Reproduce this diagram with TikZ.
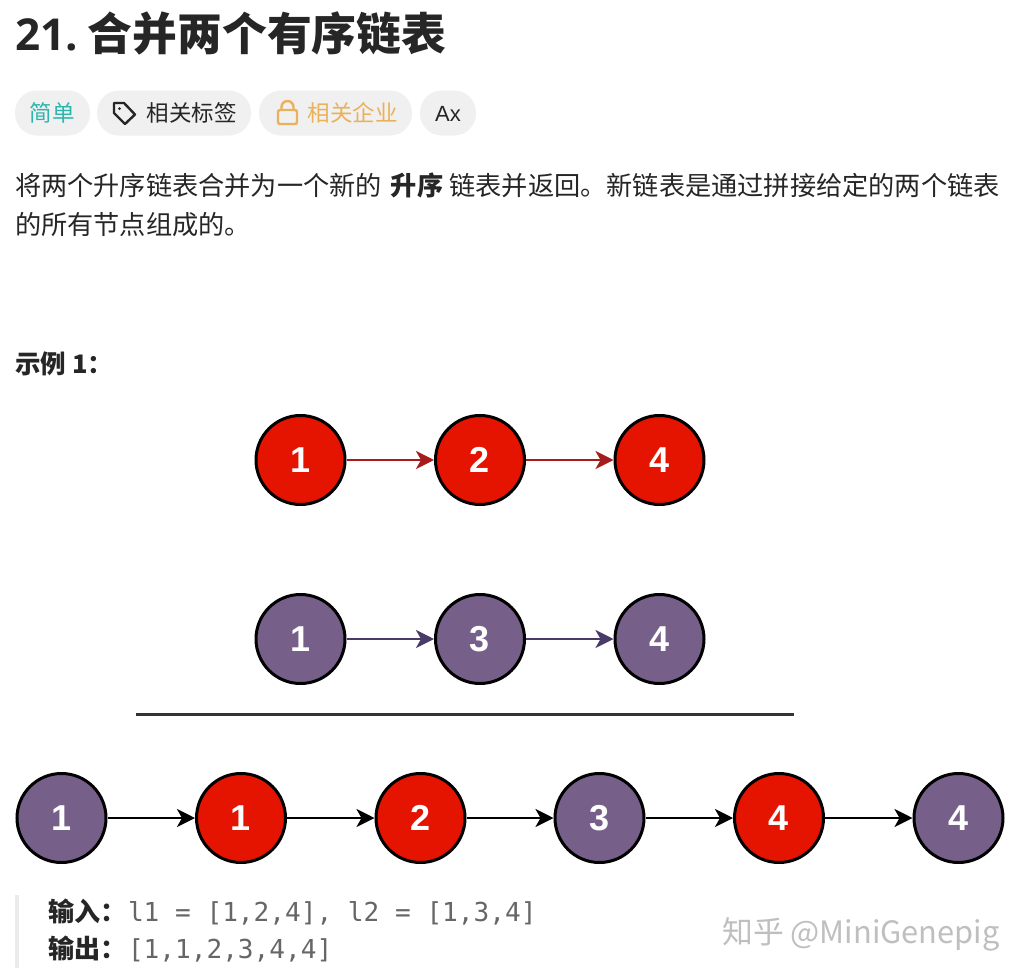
\documentclass[tikz,border=0pt]{standalone}
\usepackage{fontspec}
\usetikzlibrary{arrows.meta}
\setmainfont{Noto Sans CJK SC}
\newfontfamily\latinfont{Open Sans}
\newfontfamily\arialfont{Liberation Sans}
\newfontfamily\codefont{DejaVu Sans Mono}
\newcommand{\fsize}[1]{\fontsize{#1}{#1}\selectfont}
\definecolor{listred}{HTML}{E51400}
\definecolor{listpurple}{HTML}{76608A}
\definecolor{arrowred}{HTML}{A61C1C}
\definecolor{arrowpurple}{HTML}{4A3A68}
\definecolor{chipgray}{HTML}{F0F0F0}
\definecolor{inktext}{HTML}{262626}
\definecolor{teal}{HTML}{2DB5AD}
\definecolor{lockgold}{HTML}{E9B25A}
\tikzset{
  listnode/.style={circle,draw=black,line width=3pt,minimum size=89pt,inner sep=0pt,text=white,font=\arialfont\bfseries\fsize{36}},
  rednode/.style={listnode,fill=listred},
  purplenode/.style={listnode,fill=listpurple},
  link/.style={line width=2.6pt,-{Stealth[length=18pt,width=18pt,inset=5pt]}},
  chip/.style={rounded corners=22pt,fill=chipgray,inner sep=0pt,minimum height=45pt},
  label/.style={anchor=base west,inner sep=0pt,text=inktext},
  bodytext/.style={label,font=\fsize{26.2}},
  chiptext/.style={anchor=base,inner sep=0pt,font=\fsize{22.5}},
  codeline/.style={label,font=\fsize{26.1}}
}
\begin{document}
\begin{tikzpicture}[x=1pt,y=-1pt]
  \useasboundingbox (0,0) rectangle (1026,980);
  \fill[white] (0,0) rectangle (1026,980);

  \node[label,font=\bfseries\fsize{44.8}] (title) at (15,50) {{\latinfont\fsize{44}21.}\hspace{10pt}合并两个有序链表};

  \node[chip,minimum width=75pt] (easy) at (52.5,113) {};
  \node[chip,minimum width=154pt] (tags) at (174,113) {};
  \node[chip,minimum width=153pt] (firms) at (335.5,113) {};
  \node[chip,minimum width=56pt] (lang) at (448,113) {};
  \node[chiptext,text=teal] (easytext) at (52.5,121) {简单};
  \node[chiptext,text=inktext] (tagstext) at (191.5,121) {相关标签};
  \node[chiptext,text=lockgold] (firmstext) at (352.5,121) {相关企业};
  \node[chiptext,text=inktext,font=\arialfont\fsize{22}] (langtext) at (448,121) {Ax};
  \draw[inktext,line width=2.4pt,line join=round] (114,108) -- (114,103) -- (124,103) -- (135,114.5) -- (125,124) -- (114,113) -- cycle;
  \fill[inktext] (119.5,108.5) circle (1.5pt);
  \draw[lockgold,line width=2.4pt,rounded corners=2pt] (278,110) rectangle (297,124);
  \draw[lockgold,line width=2.4pt] (281.5,110) -- (281.5,107) arc[start angle=180,end angle=0,radius=6pt] -- (293.5,110);

  \node[bodytext] (introa) at (15,195) {将两个升序链表合并为一个新的\hspace{9pt}\textbf{升序}\hspace{6.2pt}链表并返回。新链表是通过拼接给定的两个链表};
  \node[bodytext] (introb) at (15,234) {的所有节点组成的。};
  \node[label,font=\bfseries\fsize{25.5}] (example) at (15,373) {示例 1：};

  \node[rednode] (ra) at (300.5,460) {1};
  \node[rednode] (rb) at (480,460) {2};
  \node[rednode] (rc) at (659.5,460) {4};
  \draw[link,arrowred] (ra) -- (rb);
  \draw[link,arrowred] (rb) -- (rc);

  \node[purplenode] (pa) at (300.5,639) {1};
  \node[purplenode] (pb) at (480,639) {3};
  \node[purplenode] (pc) at (659.5,639) {4};
  \draw[link,arrowpurple] (pa) -- (pb);
  \draw[link,arrowpurple] (pb) -- (pc);

  \coordinate (ruleleft) at (136,714);
  \coordinate (ruleright) at (794,714);
  \draw[line width=3pt,color=black!80] (ruleleft) -- (ruleright);

  \node[purplenode] (ma) at (61.5,818) {1};
  \node[rednode] (mb) at (241,818) {1};
  \node[rednode] (mc) at (420.5,818) {2};
  \node[purplenode] (md) at (599.5,818) {3};
  \node[rednode] (me) at (779,818) {4};
  \node[purplenode] (mf) at (958.5,818) {4};
  \foreach \from/\to in {ma/mb,mb/mc,mc/md,md/me,me/mf}
    \draw[link,black] (\from) -- (\to);

  \fill[black!8] (15,895) rectangle (19,968);
  \node[codeline] (input) at (48,921) {\textbf{输入：}\hspace{1.5pt}{\codefont\color{black!60}\fsize{26.1}l1 = [1,2,4], l2 = [1,3,4]}};
  \node[codeline] (output) at (48,958) {\textbf{输出：}\hspace{1.5pt}{\codefont\color{black!60}\fsize{26.1}[1,1,2,3,4,4]}};
  \node[label,text=black!25,font=\fsize{30.8}] (mark) at (722,943) {知乎 @MiniGenepig};
\end{tikzpicture}
\end{document}
